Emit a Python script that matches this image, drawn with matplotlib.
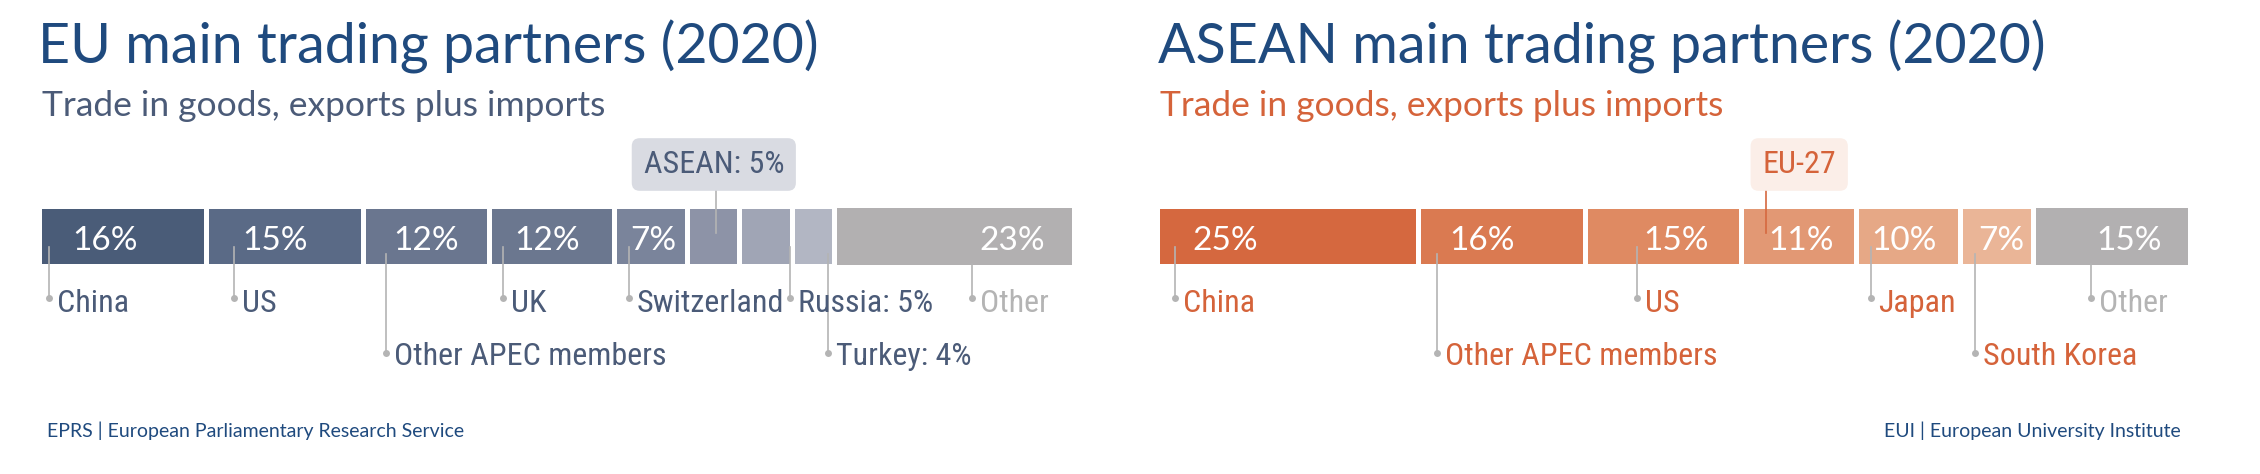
import matplotlib
matplotlib.use("Agg")
import matplotlib.pyplot as plt
import numpy as np
from matplotlib import font_manager

# data (share of trade in goods, %)
eu_partners = ["China", "US", "Other APEC members", "UK", "Switzerland",
               "ASEAN", "Russia", "Turkey", "Other"]
eu_share = [16, 15, 12, 12, 7, 5, 5, 4, 23]

asean_partners = ["China", "Other APEC members", "US", "EU-27", "Japan",
                  "South Korea", "Other"]
asean_share = [25, 16, 15, 11, 10, 7, 15]

# styling
eu_colors = ["#4a5c78", "#5a6a86", "#6a768f", "#6b778f", "#7a849b",
             "#8d93a7", "#a0a5b5", "#b2b6c3", "#b2b0b1"]
asean_colors = ["#d5683f", "#da7a51", "#df8a62", "#e29874", "#e6a886",
                "#eab597", "#b2b0b1"]
# label row under the bar (0 / 1), -1 = callout box above the bar
eu_rows = [0, 0, 1, 0, 0, -1, 0, 1, 0]
asean_rows = [0, 1, 0, -1, 0, 1, 0]
# where the leader line leaves each segment (in % from segment start)
eu_leader = [0.7, 2.4, 1.9, 1.1, 1.1, 2.5, 4.5, 3.2, 13.0]
asean_leader = [1.4, 1.5, 4.7, 2.1, 1.1, 1.1, 5.2]
# gap (px) between the leader and the % figure inside the bar
eu_pct_pad = [23, 8, 7, 11, 2, 0, 0, 0, 7]
asean_pct_pad = [18, 13, 6, 2, 1, 3, 6]

TITLE_C = "#1f4a7e"
SLATE = "#4b5b78"
ORANGE = "#d5633a"
GREY = "#b4b4b4"

installed = {f.name for f in font_manager.fontManager.ttflist}


def pick(*names):
    for n in names:
        if n in installed:
            return n
    return "DejaVu Sans"


MAIN = pick("Lato", "Open Sans", "Roboto")
NARROW = pick("Liberation Sans Narrow", "Roboto Condensed", "Open Sans Condensed", "Lato")

W, H = 2260, 474
BAR_Y, BAR_H = 236.5, 55
PCT_BASE = 250
ROW_BASE = [312, 365]
BOX_BASE, BOX_DOT = 173, 183

fig = plt.figure(figsize=(W / 100, H / 100), dpi=100)
fig.patch.set_facecolor("white")


def ftext(x, y, s, **kw):
    fig.text(x / W, 1 - y / H, s, va="baseline", **kw)


def draw_panel(x0, x1, names, shares, colors, rows, leader, pct_pad,
               txt_c, box_c, box_line):
    ax = fig.add_axes([x0 / W, 0, (x1 - x0) / W, 1])
    total = sum(shares)
    ax.set_xlim(0, total)
    ax.set_ylim(H, 0)
    ax.axis("off")
    ppu = (x1 - x0) / total
    gap = 5 / ppu
    starts = np.concatenate([[0], np.cumsum(shares)[:-1]])
    widths = [s - gap for s in shares]
    heights = [BAR_H + 2 if n == "Other" else BAR_H for n in names]
    ax.barh(BAR_Y, widths, left=starts, height=heights, color=colors)

    for name, s, st, w, row, off, pp in zip(names, shares, starts, widths,
                                            rows, leader, pct_pad):
        other = name == "Other"
        lab_c = GREY if other else txt_c
        lx = st + off
        inside = s >= 6
        if inside:
            ax.text(lx + pp / ppu, PCT_BASE, f"{s}%", color="white",
                    fontsize=24, family=MAIN, va="baseline", ha="left")
        label = name if inside else f"{name}: {s}%"
        if row < 0:
            ax.text(st + w / 2, BOX_BASE, label, color=txt_c, fontsize=23,
                    family=NARROW, ha="center", va="baseline",
                    bbox=dict(boxstyle="round,pad=0.37,rounding_size=0.25",
                              fc=box_c, ec="none"))
            ax.plot([lx, lx], [BOX_DOT, 233], color=box_line, lw=1.2)
            ax.plot(lx, BOX_DOT, "o", color=box_line, ms=5, mec="none")
        else:
            base = ROW_BASE[row]
            dot = base - 14 if row == 0 else base - 12
            top = BAR_Y + BAR_H / 2 if other else (247 if row == 0 else 254)
            ax.plot([lx, lx], [top, dot], color=GREY, lw=1.2)
            ax.plot(lx, dot, "o", color=GREY, ms=5, mec="none")
            ax.text(lx + 8 / ppu, base, label, color=lab_c, fontsize=23,
                    family=NARROW, va="baseline", ha="left")
    return ax


draw_panel(42, 1077, eu_partners, eu_share, eu_colors, eu_rows, eu_leader,
           eu_pct_pad, SLATE, "#d9dbe2", GREY)
draw_panel(1160, 2193, asean_partners, asean_share, asean_colors, asean_rows,
           asean_leader, asean_pct_pad, ORANGE, "#fbeee8", "#d5683f")

ftext(38, 64, "EU main trading partners (2020)", color=TITLE_C, fontsize=40, family=MAIN)
ftext(42, 116, "Trade in goods, exports plus imports", color=SLATE, fontsize=25.5, family=MAIN)
ftext(1158, 64, "ASEAN main trading partners (2020)", color=TITLE_C, fontsize=40, family=MAIN)
ftext(1160, 116, "Trade in goods, exports plus imports", color=ORANGE, fontsize=25.5, family=MAIN)

ftext(47, 437, "EPRS | European Parliamentary Research Service", color=TITLE_C,
      fontsize=14, family=MAIN)
ftext(2181, 437, "EUI | European University Institute", color=TITLE_C,
      fontsize=14, family=MAIN, ha="right")

fig.savefig("out.png", dpi=100, facecolor="white")
